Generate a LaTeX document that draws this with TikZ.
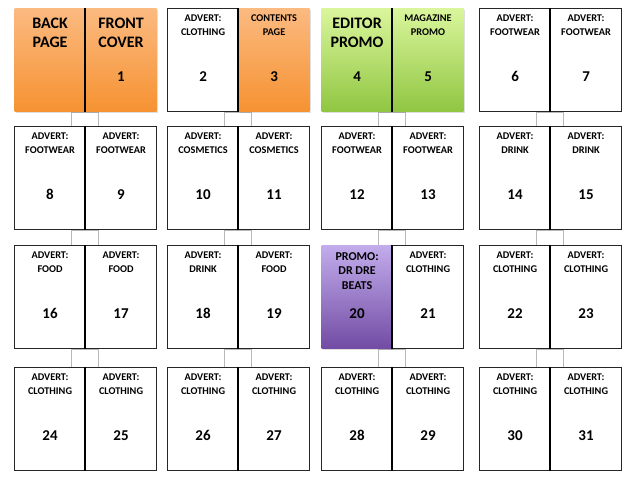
\documentclass[tikz,border=0pt]{standalone}
\usepackage{fontspec}
\setmainfont{Carlito}
\usetikzlibrary{positioning,backgrounds,shadows}

\definecolor{covertop}{RGB}{251,186,128}
\definecolor{coverbot}{RGB}{246,146,50}
\definecolor{promotop}{RGB}{218,246,156}
\definecolor{promobot}{RGB}{144,198,66}
\definecolor{beatstop}{RGB}{194,172,236}
\definecolor{beatsbot}{RGB}{114,76,164}

\begin{document}
\begin{tikzpicture}[x=1pt,y=1pt,
  page/.style={draw=black!85, line width=1.1pt, fill=white,
    minimum width=71pt, minimum height=103pt, anchor=north west,
    inner sep=0pt, text height=42.5pt, text depth=0pt,
    font=\fontsize{15}{15}\selectfont\bfseries},
  coverpage/.style={page, draw=none, top color=covertop, bottom color=coverbot,
    drop shadow={shadow xshift=1.2pt, shadow yshift=-1.2pt, opacity=0.25}},
  promopage/.style={coverpage, top color=promotop, bottom color=promobot},
  beatspage/.style={coverpage, top color=beatstop, bottom color=beatsbot},
  ptitle/.style={anchor=north, yshift=-7pt, inner sep=0pt, align=center,
    font=\fontsize{10.3}{13.2}\selectfont\bfseries},
  bigtitle/.style={anchor=north, yshift=-9.5pt, inner sep=0pt, align=center,
    font=\fontsize{16}{19.3}\selectfont\bfseries},
  beatstitle/.style={anchor=north, yshift=-7pt, inner sep=0pt, align=center,
    font=\fontsize{12}{14.5}\selectfont\bfseries},
  spine/.style={draw=black, line width=1.6pt},
  joint/.style={draw=black!28, fill=white, line width=0.9pt}
]
\useasboundingbox (0,0) rectangle (638,478);

% row 1
\node[coverpage, label={[bigtitle]north:{BACK\\PAGE}}] (back) at (14,470) {};
\node[coverpage, label={[bigtitle]north:{FRONT\\COVER}}] (p1) at (85,470) {1};
\node[page, label={[ptitle]north:{ADVERT:\\CLOTHING}}] (p2) at (167,470) {2};
\node[coverpage, label={[ptitle]north:{CONTENTS\\PAGE}}] (p3) at (238,470) {3};
\node[promopage, label={[bigtitle]north:{EDITOR\\PROMO}}] (p4) at (321,470) {4};
\node[promopage, label={[ptitle]north:{MAGAZINE\\PROMO}}] (p5) at (392,470) {5};
\node[page, label={[ptitle]north:{ADVERT:\\FOOTWEAR}}] (p6) at (479,470) {6};
\node[page, label={[ptitle]north:{ADVERT:\\FOOTWEAR}}] (p7) at (550,470) {7};

% row 2
\node[page, label={[ptitle]north:{ADVERT:\\FOOTWEAR}}] (p8) at (14,352) {8};
\node[page, label={[ptitle]north:{ADVERT:\\FOOTWEAR}}] (p9) at (85,352) {9};
\node[page, label={[ptitle]north:{ADVERT:\\COSMETICS}}] (p10) at (167,352) {10};
\node[page, label={[ptitle]north:{ADVERT:\\COSMETICS}}] (p11) at (238,352) {11};
\node[page, label={[ptitle]north:{ADVERT:\\FOOTWEAR}}] (p12) at (321,352) {12};
\node[page, label={[ptitle]north:{ADVERT:\\FOOTWEAR}}] (p13) at (392,352) {13};
\node[page, label={[ptitle]north:{ADVERT:\\DRINK}}] (p14) at (479,352) {14};
\node[page, label={[ptitle]north:{ADVERT:\\DRINK}}] (p15) at (550,352) {15};

% row 3
\node[page, label={[ptitle]north:{ADVERT:\\FOOD}}] (p16) at (14,233) {16};
\node[page, label={[ptitle]north:{ADVERT:\\FOOD}}] (p17) at (85,233) {17};
\node[page, label={[ptitle]north:{ADVERT:\\DRINK}}] (p18) at (167,233) {18};
\node[page, label={[ptitle]north:{ADVERT:\\FOOD}}] (p19) at (238,233) {19};
\node[beatspage, label={[beatstitle]north:{PROMO:\\DR DRE\\BEATS}}] (p20) at (321,233) {20};
\node[page, label={[ptitle]north:{ADVERT:\\CLOTHING}}] (p21) at (392,233) {21};
\node[page, label={[ptitle]north:{ADVERT:\\CLOTHING}}] (p22) at (479,233) {22};
\node[page, label={[ptitle]north:{ADVERT:\\CLOTHING}}] (p23) at (550,233) {23};

% row 4
\node[page, label={[ptitle]north:{ADVERT:\\CLOTHING}}] (p24) at (14,111) {24};
\node[page, label={[ptitle]north:{ADVERT:\\CLOTHING}}] (p25) at (85,111) {25};
\node[page, label={[ptitle]north:{ADVERT:\\CLOTHING}}] (p26) at (167,111) {26};
\node[page, label={[ptitle]north:{ADVERT:\\CLOTHING}}] (p27) at (238,111) {27};
\node[page, label={[ptitle]north:{ADVERT:\\CLOTHING}}] (p28) at (321,111) {28};
\node[page, label={[ptitle]north:{ADVERT:\\CLOTHING}}] (p29) at (392,111) {29};
\node[page, label={[ptitle]north:{ADVERT:\\CLOTHING}}] (p30) at (479,111) {30};
\node[page, label={[ptitle]north:{ADVERT:\\CLOTHING}}] (p31) at (550,111) {31};

% spines
\draw[spine] (p1.north west) -- (p1.south west);
\draw[spine] (p3.north west) -- (p3.south west);
\draw[spine] (p5.north west) -- (p5.south west);
\draw[spine] (p7.north west) -- (p7.south west);
\draw[spine] (p9.north west) -- (p9.south west);
\draw[spine] (p11.north west) -- (p11.south west);
\draw[spine] (p13.north west) -- (p13.south west);
\draw[spine] (p15.north west) -- (p15.south west);
\draw[spine] (p17.north west) -- (p17.south west);
\draw[spine] (p19.north west) -- (p19.south west);
\draw[spine] (p21.north west) -- (p21.south west);
\draw[spine] (p23.north west) -- (p23.south west);
\draw[spine] (p25.north west) -- (p25.south west);
\draw[spine] (p27.north west) -- (p27.south west);
\draw[spine] (p29.north west) -- (p29.south west);
\draw[spine] (p31.north west) -- (p31.south west);

% joints between the rows
\begin{scope}[on background layer]
\draw[joint] ([xshift=-13.5pt]p1.south west) rectangle ([xshift=13.5pt]p9.north west);
\draw[joint] ([xshift=-13.5pt]p3.south west) rectangle ([xshift=13.5pt]p11.north west);
\draw[joint] ([xshift=-13.5pt]p5.south west) rectangle ([xshift=13.5pt]p13.north west);
\draw[joint] ([xshift=-13.5pt]p7.south west) rectangle ([xshift=13.5pt]p15.north west);
\draw[joint] ([xshift=-13.5pt]p9.south west) rectangle ([xshift=13.5pt]p17.north west);
\draw[joint] ([xshift=-13.5pt]p11.south west) rectangle ([xshift=13.5pt]p19.north west);
\draw[joint] ([xshift=-13.5pt]p13.south west) rectangle ([xshift=13.5pt]p21.north west);
\draw[joint] ([xshift=-13.5pt]p15.south west) rectangle ([xshift=13.5pt]p23.north west);
\draw[joint] ([xshift=-13.5pt]p17.south west) rectangle ([xshift=13.5pt]p25.north west);
\draw[joint] ([xshift=-13.5pt]p19.south west) rectangle ([xshift=13.5pt]p27.north west);
\draw[joint] ([xshift=-13.5pt]p21.south west) rectangle ([xshift=13.5pt]p29.north west);
\draw[joint] ([xshift=-13.5pt]p23.south west) rectangle ([xshift=13.5pt]p31.north west);
\end{scope}
\end{tikzpicture}
\end{document}
